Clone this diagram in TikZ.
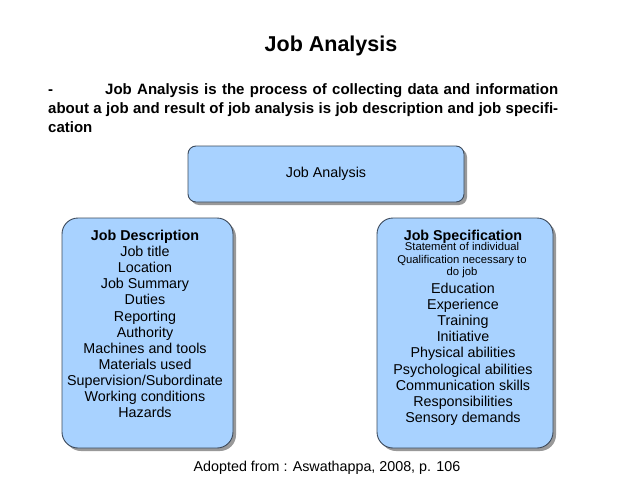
\documentclass[tikz,border=0pt]{standalone}
\usepackage{fontspec}
\setmainfont{Liberation Sans}
\usetikzlibrary{shadows}
\definecolor{boxfill}{HTML}{A8D2FF}
\definecolor{boxline}{HTML}{3C4A5C}
\tikzset{
  jbox/.style={draw=boxline, line width=0.9pt, fill=boxfill, rounded corners=#1,
    drop shadow={shadow xshift=3pt, shadow yshift=-3pt, fill=gray!80, opacity=1}},
  jtext/.style={align=center, font=\fontsize{14.3}{16.1}\selectfont, inner sep=0pt}
}
\begin{document}
\begin{tikzpicture}[x=1pt,y=-1pt]
\useasboundingbox (0,0) rectangle (638,479);
\node[font=\fontsize{21.5}{24}\selectfont\bfseries] (title) at (331,46) {Job Analysis};
\node[anchor=north west, text width=510pt, align=justify, inner sep=0pt,
  font=\fontsize{15}{19.2}\selectfont\bfseries] (para) at (48,83)
  {-\hspace{52pt}Job Analysis is the process of collecting data and information\ \ about a job and result of job analysis is job description and job specification};
\path[jbox=8pt] (188,146) rectangle (464,202);
\node[font=\fontsize{14.3}{16}\selectfont] (top) at (326,174) {Job Analysis};
\path[jbox=16pt] (62,218) rectangle (233,448);
\node[jtext, anchor=north] (left) at (145,230) {\textbf{Job Description}\\Job title\\Location\\Job Summary\\Duties\\Reporting\\Authority\\Machines and tools\\Materials used\\Supervision/Subordinate\\Working conditions\\Hazards};
\path[jbox=16pt] (377,218) rectangle (553,448);
\node[jtext, anchor=north, font=\fontsize{14.3}{16}\selectfont\bfseries] (rhead) at (463,230) {Job Specification};
\node[jtext, anchor=north, font=\fontsize{11.3}{12.8}\selectfont] (rsmall) at (462,242) {Statement of individual\\Qualification necessary to\\do job};
\node[jtext, anchor=north] (right) at (463,283) {Education\\Experience\\Training\\Initiative\\Physical abilities\\Psychological abilities\\Communication skills\\Responsibilities\\Sensory demands};
\node[font=\fontsize{14.3}{16}\selectfont] (foot) at (327,468) {Adopted from : Aswathappa, 2008, p. 106};
\end{tikzpicture}
\end{document}
